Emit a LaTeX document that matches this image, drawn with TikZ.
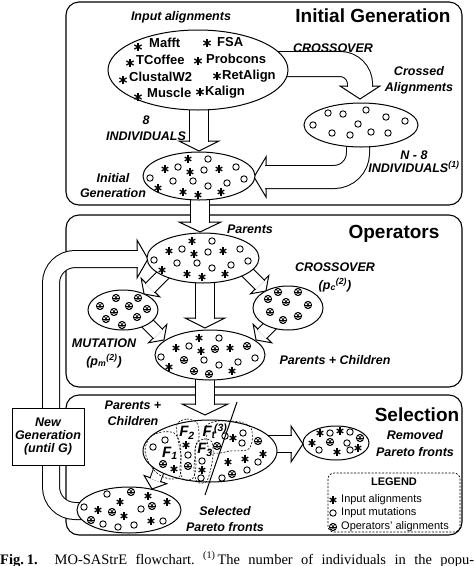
\documentclass[tikz,border=0pt]{standalone}
\usepackage{fontspec}
\setmainfont{Liberation Sans}
\newfontfamily\serifcap{Liberation Serif}
\usetikzlibrary{shapes.geometric,calc}
\pgfdeclarelayer{panels}
\pgfdeclarelayer{arrows}
\pgfsetlayers{panels,arrows,main}

\tikzset{
  st/.pic={\foreach \a in {90,30,150} \draw[line width=1.3pt] (\a:3.8) -- (\a+180:3.8);},
  ci/.pic={\draw[line width=0.9pt] (0,0) circle (3.2);},
  op/.pic={\draw[line width=0.9pt] (0,0) circle (3.6);
           \foreach \a in {0,60,120} \draw[line width=0.7pt] (\a:3.6) -- (\a+180:3.6);},
  pics/head/.style args={#1/#2}{code={\draw[line width=1pt, fill=white] (0,-#1) -- (#2,0) -- (0,#1) -- cycle;}},
  shaft/.style={line width=1pt, double=white, double distance=#1, shorten >=-0.8pt},
  pool/.style={ellipse, draw, fill=white, line width=1pt, inner sep=0pt},
  panel/.style={draw, line width=1.1pt, rounded corners=13pt},
  ttl/.style={font=\bfseries\fontsize{19}{21}\selectfont, inner sep=0pt, anchor=base},
  lbl/.style={font=\bfseries\itshape\fontsize{12.5}{16}\selectfont, align=center, inner sep=0pt},
  aln/.style={font=\bfseries\fontsize{13}{15}\selectfont, inner sep=0pt, anchor=base west},
  fl/.style={font=\bfseries\itshape\fontsize{15}{16}\selectfont, inner sep=0pt},
  front/.style={draw, line width=0.6pt, dash pattern=on 2pt off 1.5pt},
  leg/.style={font=\fontsize{11}{13}\selectfont, inner sep=0pt, anchor=west}
}

\def\mixpop{-11/-17/st, 9/-17/ci, -34/-7/st, -21/-9/ci, -9/-4/st, 5/-6/ci, 20/-7/st, 37/-9/ci,
  -49/2/ci, -26/5/ci, -6/5/ci, 9/10/ci, 28/7/ci, 45/3/ci, -41/12/st, -16/16/st, -1/19/st, 22/16/st}

\begin{document}
\begin{tikzpicture}[x=1pt, y=-1pt]
\useasboundingbox (0,0) rectangle (474,566);

\begin{pgfonlayer}{panels}
  \draw[panel] (66,2) rectangle (462,205);
  \draw[panel] (66,215) rectangle (462,387);
  \draw[panel] (66,395) rectangle (462,535);
\end{pgfonlayer}

\node[ttl] (tinit) at (373,22) {Initial Generation};
\node[ttl] (tops) at (394,238) {Operators};
\node[ttl] (tsel) at (417,421) {Selection};

\node[pool, minimum width=180pt, minimum height=80pt] (input) at (198,70) {};
\node[pool, minimum width=114pt, minimum height=44pt] (crossed) at (361,125) {};
\node[pool, minimum width=112pt, minimum height=48pt] (initgen) at (199,176) {};
\node[pool, minimum width=112pt, minimum height=50pt] (parents) at (203,258) {};
\node[pool, minimum width=70pt, minimum height=40pt] (mutated) at (123,310) {};
\node[pool, minimum width=70pt, minimum height=44pt] (crossing) at (288,308) {};
\node[pool, minimum width=110pt, minimum height=50pt] (parchild) at (210,355) {};
\node[pool, minimum width=134pt, minimum height=62pt] (selpool) at (210,451) {};
\node[pool, minimum width=66pt, minimum height=34pt] (removed) at (336,443) {};
\node[pool, minimum width=104pt, minimum height=46pt] (selected) at (129,510) {};

\coordinate (hInd) at (199,141);
\coordinate (hCross) at (360,86);
\coordinate (hN8) at (266,177);
\coordinate (hIP) at (200,222);
\coordinate (hPM) at (150.4,287.6);
\coordinate (hPX) at (259.6,284.6);
\coordinate (hPC) at (205,318);
\coordinate (hMC) at (157.6,333.6);
\coordinate (hXC) at (262.4,333.6);
\coordinate (hSel) at (205,404);
\coordinate (hRem) at (291,444);
\coordinate (hOut) at (155.4,479.6);
\coordinate (hLoop) at (137,259);

\begin{pgfonlayer}{arrows}
  \pic[rotate=-90] at (hInd) {head=20/10};
  \draw[shaft=18pt] (input -| hInd) -- (hInd);
  \pic[rotate=-90] at (hCross) {head=20/13};
  \draw[shaft=24pt, rounded corners=20pt] ($(input)+(60,-6)$) -- (360,64) -- (hCross);
  \pic[rotate=180] at (hN8) {head=20/12};
  \draw[shaft=22pt, rounded corners=24pt] ($(crossed)+(-3,5)$) -- (358,177) -- (hN8);
  \pic[rotate=-90] at (hIP) {head=21/10};
  \draw[shaft=18pt] (initgen -| hIP) -- (hIP);
  \pic[rotate=-135] at (hPM) {head=13/9};
  \draw[shaft=12pt] ($(parents)+(-35,12)$) -- (hPM);
  \pic[rotate=-45] at (hPX) {head=13/9};
  \draw[shaft=12pt] ($(parents)+(39,9)$) -- (hPX);
  \pic[rotate=-90] at (hPC) {head=20/10};
  \draw[shaft=18pt] (parents -| hPC) -- (hPC);
  \pic[rotate=-45] at (hMC) {head=13/9};
  \draw[shaft=12pt] ($(mutated)+(17,6)$) -- (hMC);
  \pic[rotate=-135] at (hXC) {head=13/9};
  \draw[shaft=12pt] ($(crossing)+(-8,8)$) -- (hXC);
  \pic[rotate=-90] at (hSel) {head=23/11};
  \draw[shaft=18pt] (parchild -| hSel) -- (hSel);
  \pic at (hRem) {head=18/12};
  \draw[shaft=16pt] ($(selpool)+(40,-7)$) -- (hRem);
  \pic[rotate=-110] at (hOut) {head=12/10};
  \draw[shaft=10pt] ($(selpool)+(-48.4,11.7)$) -- (hOut);
  \pic at (hLoop) {head=19/11};
  \draw[shaft=16pt, rounded corners=24pt] ($(selected)+(-39,1)$) -- (51,511) -- (51,259) -- (hLoop);
\end{pgfonlayer}

\node[lbl] (linput) at (181,17) {Input alignments};
\foreach \sx/\sy/\tx/\ty/\nm in {138/47/149/47.7/Mafft, 207/43/217/46.5/FSA, 130/63/136/64.7/TCoffee,
    198/61/206/63.2/Probcons, 123/80/129/81.2/ClustalW2, 217/76/222/79.7/RetAlign,
    138/97/147/97.2/Muscle, 200/92/205/95.7/Kalign}
  {\pic[scale=1.1] at (\sx,\sy) {st};
   \node[aln] (a\nm) at (\tx,\ty) {\nm};}

\node[lbl] (lxover) at (333,48) {CROSSOVER};
\node[lbl] (lcrossed) at (419,80) {Crossed\\Alignments};
\node[lbl] (leight) at (146,128.5) {8\\INDIVIDUALS};
\node[lbl, font=\bfseries\itshape\fontsize{12.5}{13}\selectfont] (lrest) at (414,161.5) {N - 8\\INDIVIDUALS\textsuperscript{(1)}};
\node[lbl, font=\bfseries\itshape\fontsize{12.5}{15}\selectfont] (linit) at (113,186) {Initial\\Generation};
\node[lbl] (lparents) at (250,229) {Parents};
\node[lbl, font=\bfseries\itshape\fontsize{12.5}{18}\selectfont] (lxop) at (335,277) {CROSSOVER\\(p\textsubscript{c}\textsuperscript{(2)})};
\node[lbl, font=\bfseries\itshape\fontsize{12.5}{18}\selectfont] (lmut) at (104,353) {MUTATION\\(p\textsubscript{m}\textsuperscript{(2)})};
\node[lbl] (lpc) at (335,360) {Parents + Children};
\node[lbl] (lpc2) at (133,413) {Parents +\\Children};
\node[lbl] (lsel) at (225,519) {Selected\\Pareto fronts};
\node[lbl, font=\bfseries\itshape\fontsize{12.5}{17}\selectfont] (lrem) at (415,443.5) {Removed\\Pareto fronts};

\foreach \dx/\dy/\k in {-33/-12/ci, -18/-11/ci, 5/-15/ci, 25/-8/ci, 44/-4/ci, -48/0/ci,
    -3/-1/ci, -29/8/ci, -11/10/ci, 10/7/ci, 27/8/ci}
  \pic at ($(crossed)+(\dx,\dy)$) {\k};
\foreach \dx/\dy/\k in \mixpop
  \pic at ($(initgen)+(\dx,\dy)$) {\k};
\foreach \dx/\dy/\k in \mixpop
  \pic at ($(parents)+(\dx,\dy)$) {\k};
\foreach \dx/\dy in {-23/-4, -7/-12, 15/-12, 6/-4, 24/-1, -9/2, -17/9, 14/7, -1/15}
  \pic at ($(mutated)+(\dx,\dy)$) {op};
\foreach \dx/\dy in {-10/-16, 10/-16, -20/-9, -2/-6, 20/-3, -18/4, 10/8, -5/12}
  \pic at ($(crossing)+(\dx,\dy)$) {op};
\foreach \dx/\dy/\k in {-11/-17/st, 9/-17/ci, -34/-7/st, -21/-9/ci, -9/-4/st, 5/-6/op, 20/-7/st,
    37/-9/op, -49/2/ci, -26/5/op, -6/5/ci, 9/10/ci, 28/7/ci, 45/3/ci, -41/12/st, -16/16/op,
    -1/19/op, 22/16/st}
  \pic at ($(parchild)+(\dx,\dy)$) {\k};
\foreach \dx/\dy/\k in {-16/-10/st, -6/-10/ci, 4/-12/st, 14/-11/ci, 24/-5/op, -24/0/st,
    -6/-1/op, 11/0/ci, 22/5/st, -17/7/ci, 1/9/st, 14/7/ci}
  \pic at ($(removed)+(\dx,\dy)$) {\k};
\foreach \dx/\dy/\k in {-22/-16/ci, 2/-18/op, 19/-14/st, -9/-8/st, 23/-4/op, 38/-8/st,
    -45/-3/ci, -31/0/st, -17/2/op, -5/6/st, 12/-1/ci, -38/10/op, -26/14/ci, -11/17/ci,
    5/15/ci, 22/11/st, 34/11/ci}
  \pic at ($(selected)+(\dx,\dy)$) {\k};

\draw[front] plot[smooth cycle] coordinates {(145,450) (150,437) (162,432) (174,433) (180,443)
  (181,460) (180,476) (170,479) (158,474) (149,463)};
\draw[front] plot[smooth cycle] coordinates {(177,424) (187,419) (197,423) (199,437) (195,450)
  (196,466) (193,478) (184,480) (180,470) (181,455) (178,440)};
\draw[front] plot[smooth cycle] coordinates {(196,444) (204,439) (212,442) (213,456) (210,472)
  (206,482) (197,482) (194,470) (195,456)};
\draw[front] plot[smooth cycle] coordinates {(206,426) (218,421) (240,422) (251,428) (252,442)
  (247,450) (230,451) (220,453) (210,452) (207,440)};
\foreach \px/\py/\k in {153/447/ci, 165/440/ci, 163/464/op, 174/469/st, 186/445/st, 188/455/ci,
    188/466/op, 202/461/ci, 202/470/st, 201/478/ci, 217/446/op, 225/436/ci, 233/438/st,
    243/433/ci, 242/443/ci, 258/441/op, 263/454/st, 245/459/st, 228/462/st, 258/462/ci,
    247/470/ci, 232/474/op, 222/478/ci}
  \pic at (\px,\py) {\k};
\node[fl] (fone) at (170,453) {F\textsubscript{1}};
\node[fl] (ftwo) at (187,433) {F\textsubscript{2}};
\node[fl] (fthree) at (205,450) {F\textsubscript{3}};
\node[fl] (ft) at (215,431) {F\textsubscript{t}\kern-1.5pt\textsuperscript{(3)}};
\coordinate (cutA) at (237,402);
\coordinate (cutB) at (205,495);
\draw[line width=1pt] (cutA) -- (cutB);

\node[draw, fill=white, line width=1pt, minimum width=72pt, minimum height=57pt, lbl,
  font=\bfseries\itshape\fontsize{12.5}{13}\selectfont] (newgen) at (48,436.5) {New\\Generation\\(until G)};

\node[draw, line width=0.7pt, dash pattern=on 2pt off 1.5pt, rounded corners=6pt,
  minimum width=132pt, minimum height=59pt, inner sep=0pt] (legend) at (394,502.5) {};
\node[font=\bfseries\fontsize{11}{13}\selectfont, inner sep=0pt] (legtitle) at (394,482) {LEGEND};
\pic at (333,500) {st};
\node[leg] (leg1) at (341,500) {Input alignments};
\pic at (333,513) {ci};
\node[leg] (leg2) at (341,513) {Input mutations};
\pic at (333,527) {op};
\node[leg] (leg3) at (341,527) {Operators' alignments};

\node[anchor=base west, inner sep=0pt, font=\serifcap\fontsize{14.5}{16}\selectfont] (caption) at (0,564)
  {\makebox[474pt][s]{\textbf{Fig.\kern3pt1.}\ \ MO-SAStrE flowchart.\ \textsuperscript{(1)}\kern2pt The number of individuals in the popu-}};
\end{tikzpicture}
\end{document}
